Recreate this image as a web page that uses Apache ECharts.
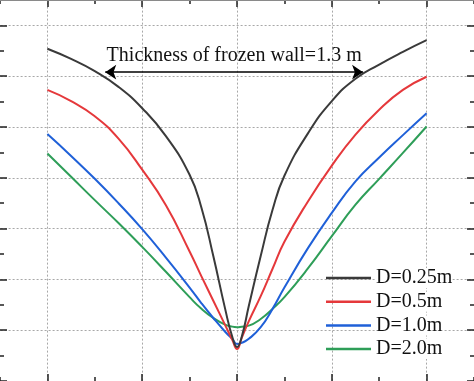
<!DOCTYPE html>
<html>
<head>
<meta charset="utf-8">
<script src="https://cdn.jsdelivr.net/npm/echarts@6/dist/echarts.min.js"></script>
<style>
html,body{margin:0;padding:0;background:#fff;}
#chart{width:474px;height:381px;}
</style>
</head>
<body>
<div id="chart"></div>
<script>
// distance from pile centre (arbitrary units)
const xValues = [-2, -1.75, -1.5, -1.25, -1, -0.75, -0.5, -0.375, -0.25, -0.125, -0.05, 0,
                 0.05, 0.125, 0.25, 0.375, 0.5, 0.75, 1, 1.25, 1.5, 1.75, 2];
const seriesNames = ['D=0.25m', 'D=0.5m', 'D=1.0m', 'D=2.0m'];
const valuesD025 = [6.54, 6.34, 6.10, 5.79, 5.37, 4.82, 4.06, 3.41, 2.46, 1.42, 0.87, 0.67,
                    0.87, 1.48, 2.46, 3.37, 4.04, 4.88, 5.51, 5.95, 6.23, 6.48, 6.71];
const valuesD05  = [5.73, 5.51, 5.21, 4.77, 4.16, 3.46, 2.55, 2.06, 1.58, 1.10, 0.81, 0.63,
                    0.85, 1.18, 1.67, 2.21, 2.74, 3.54, 4.24, 4.85, 5.34, 5.73, 5.99];
const valuesD10  = [4.86, 4.43, 3.98, 3.50, 2.99, 2.43, 1.84, 1.53, 1.24, 0.97, 0.83, 0.73,
                    0.75, 0.83, 1.06, 1.42, 1.84, 2.62, 3.31, 3.93, 4.40, 4.84, 5.27];
const valuesD20  = [4.48, 4.02, 3.56, 3.11, 2.64, 2.15, 1.65, 1.42, 1.24, 1.11, 1.07, 1.06,
                    1.07, 1.09, 1.22, 1.42, 1.65, 2.22, 2.85, 3.47, 3.98, 4.49, 5.01];
const annotationText = 'Thickness of frozen wall=1.3 m';
const arrowStart = [-1.39, 6.08];
const arrowEnd = [1.33, 6.08];

const colors = ['#3a3a3a', '#e5383b', '#1f60d8', '#2e9e58'];
const allValues = [valuesD025, valuesD05, valuesD10, valuesD20];
const serif = '"Liberation Serif", "Times New Roman", serif';

const chart = echarts.init(document.getElementById('chart'), null, {renderer: 'canvas'});

// the picture is a crop of a larger frame: the grid extends one major step beyond the canvas
const gridLine = {show: true, lineStyle: {color: '#a8a8a8', width: 1, type: [2, 2]}};
function axisCommon(extra) {
  return Object.assign({
    type: 'value',
    gridIndex: 0,
    axisLine: {show: false, onZero: false},
    axisLabel: {show: false},
    axisTick: {show: true, inside: true, length: 7, lineStyle: {color: '#222', width: 1.5}},
    minorTick: {show: true, splitNumber: 2, length: 4, lineStyle: {color: '#222', width: 1.5}},
    minorSplitLine: {show: false},
    splitLine: {show: false}
  }, extra);
}

const series = allValues.map((vals, i) => ({
  name: seriesNames[i],
  type: 'line',
  xAxisIndex: 0,
  yAxisIndex: 0,
  data: xValues.map((x, k) => [x, vals[k]]),
  showSymbol: false,
  symbol: 'none',
  smooth: 0.5,
  lineStyle: {color: colors[i], width: 2},
  itemStyle: {color: colors[i]},
  z: 10 - i
}));

series[0].markLine = {
  silent: true,
  symbol: ['arrow', 'arrow'],
  symbolSize: [11, 11],
  lineStyle: {color: '#000', width: 1.5, type: 'solid'},
  label: {
    show: true,
    position: 'insideMiddleTop',
    distance: 6,
    formatter: annotationText,
    fontFamily: serif,
    fontSize: 20,
    color: '#111'
  },
  data: [[{coord: arrowStart}, {coord: arrowEnd}]]
};

chart.setOption({
  animation: false,
  backgroundColor: '#fff',
  grid: {left: -47.4, top: -25.4, width: 568.8, height: 406.4,
         containLabel: false, outerBoundsMode: 'none'},
  xAxis: [
    axisCommon({position: 'bottom', min: -3, max: 3, interval: 1, splitLine: gridLine}),
    axisCommon({position: 'top', min: -3, max: 3, interval: 1, offset: -25.4})
  ],
  yAxis: [
    axisCommon({position: 'left', min: 0, max: 8, interval: 1, offset: -47.4, splitLine: gridLine}),
    axisCommon({position: 'right', min: 0, max: 8, interval: 1, offset: -47.4})
  ],
  legend: {
    data: seriesNames,
    orient: 'vertical',
    left: 326,
    top: 268,
    padding: 0,
    itemGap: 3.7,
    itemWidth: 45,
    itemHeight: 2.5,
    icon: 'rect',
    textStyle: {fontFamily: serif, fontSize: 20, color: '#111', lineHeight: 20, backgroundColor: '#fff'}
  },
  graphic: [{
    type: 'line',
    shape: {x1: 0, y1: 0.5, x2: 474, y2: 0.5},
    style: {stroke: '#8a8a8a', lineWidth: 1},
    z: 100
  }],
  series: series
});
</script>
</body>
</html>
